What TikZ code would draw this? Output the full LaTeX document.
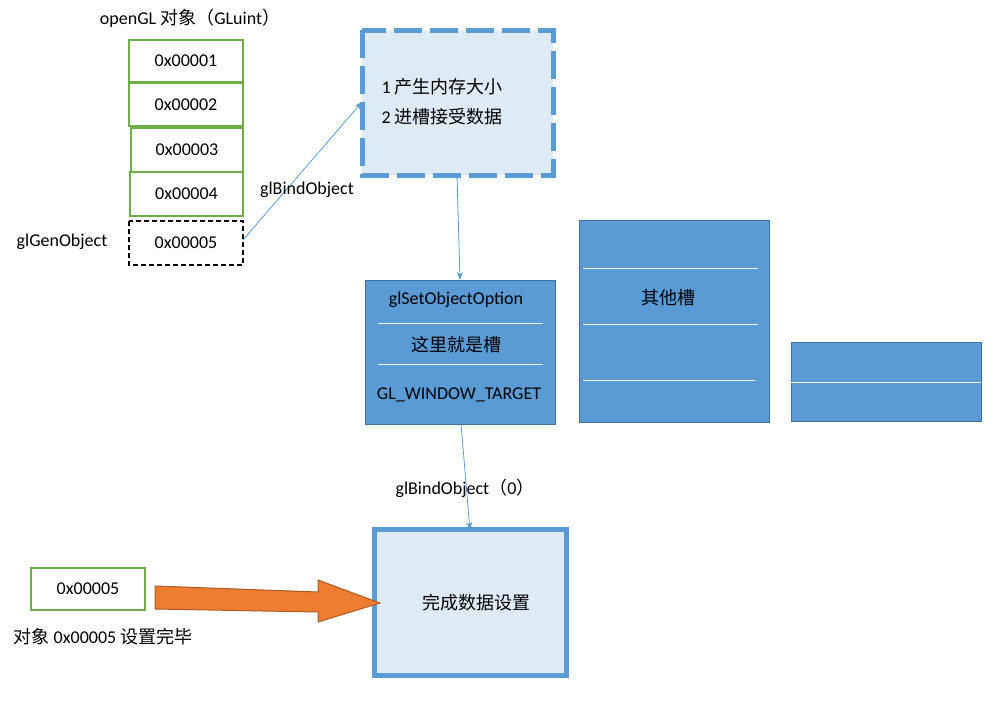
\documentclass[tikz,border=0pt]{standalone}
\usepackage{fontspec}
\setmainfont{Carlito}
\newfontfamily\cjk{Noto Sans CJK SC}
\usetikzlibrary{arrows.meta}
\definecolor{lb}{RGB}{222,234,246}
\definecolor{mb}{RGB}{91,155,213}
\definecolor{db}{RGB}{65,113,156}
\definecolor{gr}{RGB}{112,173,71}
\definecolor{orf}{RGB}{237,125,49}
\definecolor{ord}{RGB}{174,90,33}
\tikzset{
 x=1pt,y=-1pt,
 every node/.style={font=\fontsize{18}{20}\selectfont},
 gbox/.style={draw=gr,line width=1.3pt},
 bluebox/.style={draw=db,fill=mb,line width=1pt},
 sep/.style={draw=white,line width=0.8pt},
 conn/.style={draw=mb,line width=0.8pt,-{Stealth[length=8pt,width=6pt]}},
}
\begin{document}
\begin{tikzpicture}
\useasboundingbox (0,0) rectangle (994,705);
\node (title) at (190,18) {openGL {\cjk 对象（}GLuint{\cjk ）}};
\draw[gbox] (129,40) rectangle (243,82) node[midway,black] (o1) {0x00001};
\draw[gbox] (129,83) rectangle (243,126) node[midway,black] (o2) {0x00002};
\draw[gbox] (131,128) rectangle (243,172) node[midway,black] (o3) {0x00003};
\draw[gbox] (130,172) rectangle (243,216) node[midway,black] (o4) {0x00004};
\draw[line width=1.2pt,dash pattern=on 5pt off 3pt] (129,221) rectangle (243,265);
\node (o5) at (186,243) {0x00005};
\coordinate (o5r) at (243,240);
\node (gen) at (62,242) {glGenObject};
% dashed box
\draw[draw=mb,fill=lb,line width=5pt,dash pattern=on 28pt off 8pt] (362,30) rectangle (553,175);
\coordinate (dbl) at (362,102);
\coordinate (dbb) at (457,175);
\node[anchor=west] (t1) at (378,87) {1 {\cjk 产生内存大小}};
\node[anchor=west] (t2) at (378,117) {2 {\cjk 进槽接受数据}};
\draw[conn] (o5r) -- (dbl);
\node (bind) at (307,190) {glBindObject};
% slot box
\draw[bluebox] (365,280) rectangle (555,424);
\draw[sep] (378,323) -- (543,323);
\draw[sep] (378,364) -- (543,364);
\coordinate (sbt) at (460,280);
\coordinate (sbb) at (461,424);
\node (s1) at (456,300) {glSetObjectOption};
\node (s2) at (456,345) {\cjk 这里就是槽};
\node (s3) at (459,395) {GL\_WINDOW\_TARGET};
\draw[conn] (dbb) -- (sbt);
% other boxes
\draw[bluebox] (579,220) rectangle (769,422);
\draw[sep] (583,268) -- (758,268);
\draw[sep] (583,324) -- (758,324);
\draw[sep] (583,380) -- (755,380);
\node (other) at (668,298) {\cjk 其他槽};
\draw[bluebox] (791,342) rectangle (981,421);
\draw[sep] (791,382) -- (981,382);
% final box
\draw[draw=mb,fill=lb,line width=5pt] (374,529) rectangle (566,675);
\coordinate (fbt) at (470,530);
\node (done) at (476,603) {\cjk 完成数据设置};
\draw[conn] (sbb) -- (fbt);
\node (bind0) at (465,488) {glBindObject{\cjk （}0{\cjk ）}};
% bottom left
\draw[gbox] (31,568) rectangle (145,610) node[midway,black] (o6) {0x00005};
\draw[fill=orf,draw=ord,line width=1pt] (155,586) -- (318,592) -- (318,580) -- (380,603) -- (318,622) -- (318,612) -- (155,609) -- cycle;
\node (fin) at (103,637) {{\cjk 对象} 0x00005 {\cjk 设置完毕}};
\end{tikzpicture}
\end{document}
